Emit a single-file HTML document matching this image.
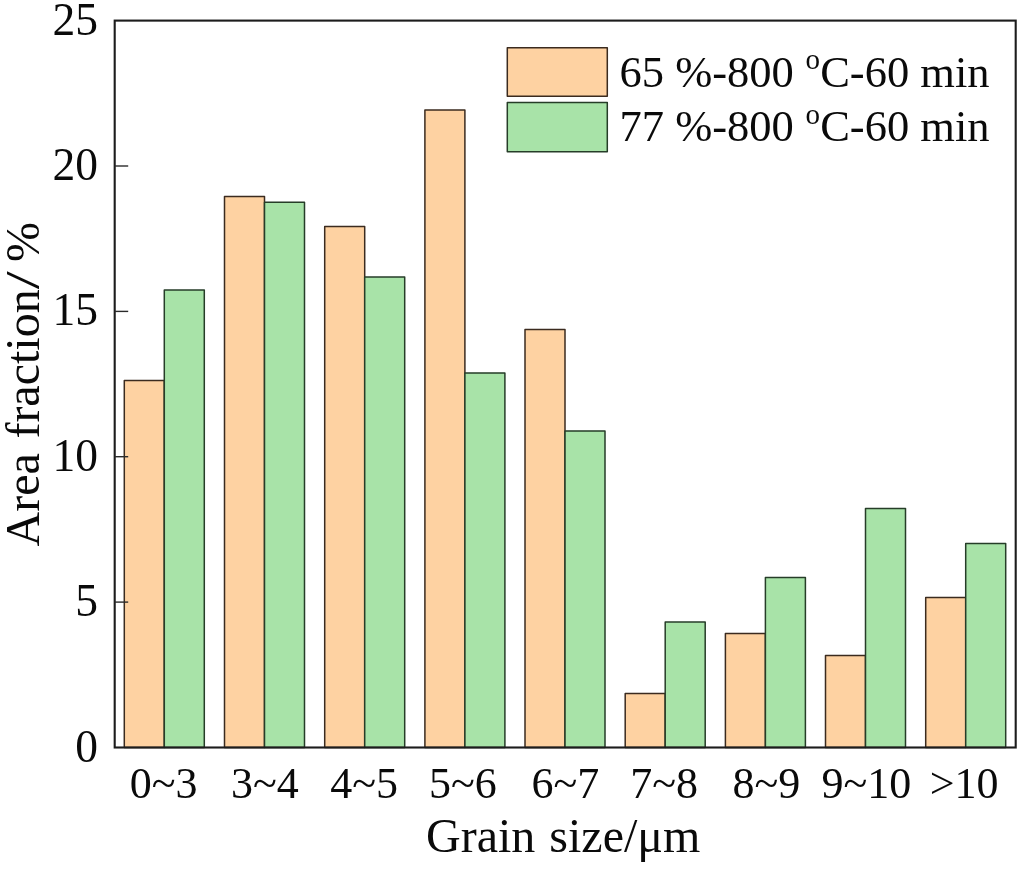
<!DOCTYPE html>
<html lang="en">
<head>
<meta charset="utf-8">
<title>Grain size distribution</title>
<style>
html,body{margin:0;padding:0;background:#fff;}
body{width:1020px;height:869px;overflow:hidden;}
svg{display:block;}
text{font-family:"Liberation Serif","Times New Roman",serif;fill:#0a0a0a;}
.tick{font-size:44px;}
.ytick{font-size:45.5px;}
.title{font-size:48px;}
.leg{font-size:44.5px;}
</style>
</head>
<body>
<svg width="1020" height="869" viewBox="0 0 1020 869">
<rect x="0" y="0" width="1020" height="869" fill="#ffffff"/>

<g stroke-width="1.5" stroke-linejoin="round">
<rect x="124.3" y="380.6" width="40.0" height="366.9" fill="#FED2A2" stroke="#3b2b1f"/>
<rect x="164.3" y="290.0" width="40.0" height="457.5" fill="#A8E3A8" stroke="#263d28"/>
<rect x="224.5" y="196.4" width="40.0" height="551.1" fill="#FED2A2" stroke="#3b2b1f"/>
<rect x="264.5" y="202.2" width="40.0" height="545.3" fill="#A8E3A8" stroke="#263d28"/>
<rect x="324.7" y="226.5" width="40.0" height="521.0" fill="#FED2A2" stroke="#3b2b1f"/>
<rect x="364.7" y="277.0" width="40.0" height="470.5" fill="#A8E3A8" stroke="#263d28"/>
<rect x="424.9" y="110.0" width="40.0" height="637.5" fill="#FED2A2" stroke="#3b2b1f"/>
<rect x="464.9" y="372.9" width="40.0" height="374.6" fill="#A8E3A8" stroke="#263d28"/>
<rect x="525.0" y="329.5" width="40.0" height="418.0" fill="#FED2A2" stroke="#3b2b1f"/>
<rect x="565.0" y="430.9" width="40.0" height="316.6" fill="#A8E3A8" stroke="#263d28"/>
<rect x="625.2" y="693.5" width="40.0" height="54.0" fill="#FED2A2" stroke="#3b2b1f"/>
<rect x="665.2" y="622.1" width="40.0" height="125.4" fill="#A8E3A8" stroke="#263d28"/>
<rect x="725.4" y="633.6" width="40.0" height="113.9" fill="#FED2A2" stroke="#3b2b1f"/>
<rect x="765.4" y="577.6" width="40.0" height="169.9" fill="#A8E3A8" stroke="#263d28"/>
<rect x="825.5" y="655.6" width="40.0" height="91.9" fill="#FED2A2" stroke="#3b2b1f"/>
<rect x="865.5" y="508.6" width="40.0" height="238.9" fill="#A8E3A8" stroke="#263d28"/>
<rect x="925.7" y="597.5" width="40.0" height="150.0" fill="#FED2A2" stroke="#3b2b1f"/>
<rect x="965.7" y="543.4" width="40.0" height="204.1" fill="#A8E3A8" stroke="#263d28"/>
</g>
<rect x="114.7" y="20.6" width="901.0" height="726.9" fill="none" stroke="#1c1c1c" stroke-width="2.1"/>
<g stroke="#2a2a2a" stroke-width="1.4">
<line x1="114.7" y1="602.1" x2="128.2" y2="602.1"/>
<line x1="114.7" y1="456.7" x2="128.2" y2="456.7"/>
<line x1="114.7" y1="311.4" x2="128.2" y2="311.4"/>
<line x1="114.7" y1="166.0" x2="128.2" y2="166.0"/>
</g>
<g class="tick ytick" text-anchor="end">
<text x="97.9" y="761.5">0</text>
<text x="97.9" y="616.1">5</text>
<text x="97.9" y="470.7">10</text>
<text x="97.9" y="325.4">15</text>
<text x="97.9" y="180.0">20</text>
<text x="97.9" y="34.6">25</text>
</g>
<g class="tick" text-anchor="middle">
<text x="163.6" y="797.7">0~3</text>
<text x="264.9" y="797.7">3~4</text>
<text x="364.1" y="797.7">4~5</text>
<text x="462.9" y="797.7">5~6</text>
<text x="565.4" y="797.7">6~7</text>
<text x="664.1" y="797.7">7~8</text>
<text x="766.3" y="797.7">8~9</text>
<text x="866.4" y="797.7">9~10</text>
<text x="964.1" y="797.7">&gt;10</text>
</g>
<text class="title" text-anchor="middle" x="565.2" y="851.8"><tspan dx="-2">Grain</tspan><tspan dx="2"> size/μm</tspan></text>
<text class="title" transform="translate(38.5 546.4) rotate(-90)"><tspan x="0">Area</tspan> <tspan x="107.8">fraction</tspan><tspan x="257.2" textLength="18" lengthAdjust="spacingAndGlyphs">/</tspan> <tspan x="284.4">%</tspan></text>
<rect x="507.3" y="47.8" width="100" height="48.4" fill="#FED2A2" stroke="#3b2b1f" stroke-width="1.5" stroke-linejoin="round"/>
<rect x="507.3" y="102.5" width="100" height="49.2" fill="#A8E3A8" stroke="#263d28" stroke-width="1.5" stroke-linejoin="round"/>
<text class="leg" x="619.5" y="86.9">65 %-800 <tspan font-size="29" x="805.6" dy="-17.5">o</tspan><tspan x="820.2" dy="17.5">C-60 min</tspan></text>
<text class="leg" x="619.5" y="141.2">77 %-800 <tspan font-size="29" x="805.6" dy="-17.5">o</tspan><tspan x="820.2" dy="17.5">C-60 min</tspan></text>
</svg>
</body>
</html>
